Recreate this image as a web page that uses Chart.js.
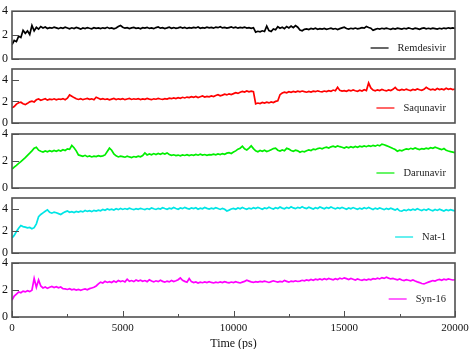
<!DOCTYPE html>
<html>
<head>
<meta charset="utf-8">
<title>RMSD</title>
<script src="https://cdn.jsdelivr.net/npm/chart.js@4.4.1/dist/chart.umd.min.js"></script>
<style>
    html, body { margin: 0; padding: 0; background: #fff; }
    #figure { position: relative; width: 474px; height: 349px; }
    #figure canvas { position: absolute; left: 0; top: 0; }
</style>
</head>
<body>
<div id="figure"></div>
<script>
// one sample every 100 ps, 0 .. 20000 ps
const timeStep = 100;
const timeMax = 20000;

const remdesivir = [
    1.20, 1.55, 1.45, 1.90, 1.80, 2.40, 2.15, 2.35, 2.05, 2.80,
    2.35, 2.65, 2.50, 2.72, 2.60, 2.68, 2.55, 2.62, 2.58, 2.66,
    2.60, 2.54, 2.63, 2.57, 2.66, 2.59, 2.52, 2.61, 2.55, 2.64,
    2.58, 2.50, 2.60, 2.55, 2.63, 2.57, 2.53, 2.62, 2.56, 2.60,
    2.54, 2.61, 2.57, 2.65, 2.56, 2.60, 2.52, 2.59, 2.72, 2.80,
    2.66, 2.58, 2.62, 2.55, 2.60, 2.64, 2.57, 2.61, 2.53, 2.62,
    2.58, 2.65, 2.56, 2.60, 2.54, 2.63, 2.68, 2.58, 2.62, 2.55,
    2.60, 2.66, 2.57, 2.63, 2.56, 2.61, 2.67, 2.59, 2.64, 2.56,
    2.62, 2.58, 2.65, 2.60, 2.68, 2.57, 2.63, 2.59, 2.66, 2.61,
    2.64, 2.58, 2.67, 2.62, 2.70, 2.60, 2.65, 2.58, 2.63, 2.68,
    2.60, 2.66, 2.58, 2.64, 2.61, 2.67, 2.59, 2.63, 2.57, 2.62,
    2.25, 2.32, 2.28, 2.36, 2.30, 2.75, 2.38, 2.30, 2.52, 2.45,
    2.70, 2.58, 2.66, 2.54, 2.72, 2.60, 2.76, 2.62, 2.80, 2.66,
    2.42, 2.36, 2.48, 2.52, 2.46, 2.55, 2.50, 2.57, 2.49, 2.54,
    2.50, 2.56, 2.48, 2.53, 2.58, 2.51, 2.55, 2.47, 2.54, 2.60,
    2.66, 2.55, 2.50, 2.57, 2.52, 2.59, 2.53, 2.56, 2.62, 2.58,
    2.72, 2.64, 2.58, 2.40, 2.48, 2.55, 2.50, 2.57, 2.52, 2.58,
    2.53, 2.49, 2.56, 2.51, 2.58, 2.54, 2.50, 2.57, 2.53, 2.60,
    2.55, 2.51, 2.58, 2.54, 2.49, 2.56, 2.60, 2.53, 2.57, 2.52,
    2.58, 2.54, 2.50, 2.57, 2.53, 2.59, 2.55, 2.61, 2.56, 2.60,
    2.57
];

const saqunavir = [
    1.40, 1.52, 1.75, 1.88, 1.92, 1.78, 1.70, 1.82, 1.96, 2.02,
    1.95, 2.15, 2.22, 2.10, 2.18, 2.25, 2.12, 2.20, 2.16, 2.24,
    2.14, 2.22, 2.18, 2.26, 2.15, 2.30, 2.60, 2.48, 2.35, 2.24,
    2.18, 2.25, 2.16, 2.22, 2.28, 2.19, 2.24, 2.15, 2.38, 2.30,
    2.20, 2.26, 2.18, 2.23, 2.15, 2.21, 2.27, 2.17, 2.24, 2.19,
    2.25, 2.16, 2.22, 2.28, 2.18, 2.24, 2.20, 2.26, 2.17, 2.23,
    2.19, 2.27, 2.21, 2.16, 2.24, 2.20, 2.28, 2.22, 2.18, 2.26,
    2.22, 2.30, 2.25, 2.33, 2.27, 2.35, 2.29, 2.38, 2.32, 2.40,
    2.35, 2.44, 2.38, 2.46, 2.36, 2.43, 2.50, 2.40, 2.47, 2.42,
    2.50, 2.45, 2.55, 2.62, 2.52, 2.58, 2.66, 2.60, 2.70, 2.64,
    2.72, 2.80, 2.74, 2.85, 2.92, 2.86, 2.96, 2.88, 2.94, 2.90,
    1.78, 1.85, 1.80, 1.90, 1.84, 1.92, 1.86, 1.95, 1.90, 2.00,
    2.05, 2.62, 2.78, 2.86, 2.80, 2.90, 2.84, 2.92, 2.86, 2.95,
    2.88, 2.96, 2.90, 2.85, 2.93, 2.87, 2.95, 2.90, 2.98, 2.92,
    2.88, 2.96, 2.91, 3.00, 2.94, 3.05, 2.98, 3.30, 3.02, 2.95,
    3.00, 2.93, 3.04, 2.97, 3.06, 2.99, 2.94, 3.03, 2.96, 3.08,
    3.00, 3.70, 3.25, 3.05, 2.98, 3.07, 3.01, 3.10, 3.03, 2.97,
    3.06, 3.00, 3.12, 3.30, 3.08, 3.02, 3.10, 3.04, 3.14, 3.06,
    3.00, 3.10, 3.05, 3.15, 3.08, 3.02, 3.12, 3.30, 3.18, 3.08,
    3.14, 3.06, 3.20, 3.10, 3.16, 3.08, 3.22, 3.12, 3.18, 3.10,
    3.15
];

const darunavir = [
    1.40, 1.55, 1.68, 1.82, 1.95, 2.10, 2.25, 2.42, 2.58, 2.75,
    2.95, 3.02, 2.80, 2.72, 2.66, 2.74, 2.68, 2.76, 2.70, 2.78,
    2.72, 2.80, 2.74, 2.84, 2.78, 2.90, 2.86, 3.15, 2.98, 2.75,
    2.45, 2.40, 2.35, 2.42, 2.32, 2.38, 2.30, 2.36, 2.33, 2.40,
    2.34, 2.38, 2.45, 2.70, 2.95, 2.80, 2.52, 2.38, 2.30, 2.36,
    2.32, 2.28, 2.35, 2.30, 2.26, 2.33, 2.29, 2.36, 2.31, 2.40,
    2.60, 2.45, 2.52, 2.46, 2.55, 2.48, 2.56, 2.50, 2.58, 2.52,
    2.60, 2.48, 2.42, 2.46, 2.40, 2.44, 2.38, 2.45, 2.41, 2.47,
    2.40, 2.46, 2.42, 2.48, 2.43, 2.50, 2.44, 2.48, 2.42, 2.47,
    2.45, 2.50, 2.46, 2.52, 2.48, 2.55, 2.50, 2.58, 2.62, 2.56,
    2.66, 2.75, 2.88, 2.95, 3.10, 2.90, 2.82, 2.95, 3.12, 2.92,
    2.75, 2.68, 2.78, 2.72, 2.80, 2.70, 2.76, 2.84, 2.92, 2.95,
    2.80, 2.74, 2.82, 2.76, 2.94, 2.88, 2.78, 2.72, 2.80, 2.75,
    2.65, 2.72, 2.68, 2.76, 2.82, 2.78, 2.88, 2.84, 2.92, 2.96,
    2.90, 2.98, 3.02, 2.96, 3.05, 3.10, 3.04, 3.12, 3.06, 3.02,
    2.96, 3.04, 2.98, 3.06, 3.00, 3.08, 3.02, 3.10, 3.05, 3.12,
    3.06, 3.14, 3.08, 3.16, 3.10, 3.18, 3.12, 3.25, 3.20, 3.14,
    3.08, 3.00, 2.92, 2.85, 2.72, 2.80, 2.76, 2.84, 2.90, 2.86,
    2.94, 2.88, 2.96, 2.90, 2.85, 2.92, 2.88, 2.95, 2.90, 2.98,
    2.94, 3.02, 2.96, 2.90, 2.84, 2.92, 2.80, 2.74, 2.70, 2.66,
    2.62
];

const nat1 = [
    1.38, 1.60, 1.95, 2.25, 2.50, 2.40, 2.35, 2.28, 2.32, 2.20,
    2.30, 2.65, 3.30, 3.50, 3.65, 3.80, 3.92, 3.70, 3.62, 3.72,
    3.66, 3.58, 3.50, 3.64, 3.74, 3.82, 3.70, 3.76, 3.68, 3.78,
    3.72, 3.80, 3.74, 3.86, 3.78, 3.84, 3.76, 3.88, 3.82, 3.90,
    3.84, 3.95, 3.88, 4.00, 3.92, 3.98, 3.90, 4.02, 3.94, 4.05,
    3.96, 4.04, 3.98, 4.08, 4.00, 3.94, 4.03, 3.97, 4.06, 4.00,
    3.95, 4.04, 3.98, 4.10, 4.02, 3.96, 4.06, 4.00, 4.12, 4.04,
    3.98, 4.08, 4.02, 4.14, 4.05, 3.98, 4.10, 4.03, 4.15, 4.06,
    4.00, 4.10, 4.04, 4.12, 3.98, 4.08, 4.02, 4.14, 4.06, 4.00,
    4.08, 4.02, 4.12, 4.04, 3.96, 4.06, 3.98, 3.82, 3.90, 4.00,
    4.06, 3.98, 4.10, 4.02, 4.14, 4.05, 3.97, 4.08, 4.01, 4.12,
    4.04, 4.15, 4.06, 3.98, 4.10, 4.03, 4.16, 4.07, 4.00, 4.12,
    4.05, 4.18, 4.08, 4.02, 4.14, 4.06, 4.20, 4.10, 4.03, 4.15,
    4.08, 4.20, 4.10, 4.04, 4.16, 4.08, 4.00, 4.12, 4.05, 4.18,
    4.10, 4.02, 4.14, 4.06, 4.18, 4.09, 4.01, 4.12, 4.04, 4.15,
    4.06, 3.98, 4.10, 4.02, 4.13, 4.05, 3.97, 4.08, 4.00, 4.11,
    4.03, 4.14, 4.05, 3.96, 4.08, 4.00, 4.10, 4.02, 3.94, 4.05,
    3.97, 4.07, 3.99, 3.90, 4.02, 3.84, 3.80, 3.92, 3.85, 3.96,
    3.88, 3.98, 3.90, 4.02, 3.93, 3.86, 3.97, 3.89, 4.00, 3.91,
    3.84, 3.95, 3.87, 3.98, 3.90, 3.82, 3.93, 3.86, 3.94, 3.88,
    3.82
];

const syn16 = [
    1.25, 1.55, 1.70, 1.85, 1.80, 1.92, 1.86, 1.95, 1.88, 1.98,
    2.85, 2.20, 2.75, 2.30, 2.15, 2.22, 2.12, 2.20, 2.26, 2.18,
    2.24, 2.16, 2.22, 2.10, 2.08, 2.04, 2.10, 2.02, 2.06, 2.00,
    2.05, 1.98, 2.04, 2.08, 2.02, 2.10, 2.15, 2.20, 2.30, 2.45,
    2.58, 2.52, 2.64, 2.56, 2.62, 2.55, 2.66, 2.58, 2.70, 2.62,
    2.68, 2.60, 2.80, 2.64, 2.70, 2.62, 2.74, 2.66, 2.72, 2.64,
    2.70, 2.62, 2.76, 2.66, 2.60, 2.68, 2.62, 2.72, 2.64, 2.58,
    2.66, 2.60, 2.70, 2.62, 2.68, 2.76, 2.90, 2.72, 2.64, 2.58,
    2.85, 2.62, 2.55, 2.60, 2.52, 2.58, 2.54, 2.60, 2.55, 2.61,
    2.56, 2.52, 2.58, 2.54, 2.60, 2.55, 2.62, 2.57, 2.53, 2.59,
    2.55, 2.61, 2.56, 2.52, 2.58, 2.64, 2.72, 2.66, 2.60, 2.56,
    2.62, 2.58, 2.64, 2.60, 2.66, 2.61, 2.56, 2.62, 2.68, 2.63,
    2.58, 2.64, 2.60, 2.70, 2.64, 2.58, 2.66, 2.62, 2.68, 2.63,
    2.66, 2.72, 2.68, 2.75, 2.70, 2.78, 2.72, 2.80, 2.75, 2.82,
    2.76, 2.84, 2.78, 2.86, 2.80, 2.76, 2.84, 2.78, 2.88, 2.82,
    2.90, 2.84, 2.78, 2.85, 2.80, 2.74, 2.82, 2.76, 2.72, 2.78,
    2.74, 2.80, 2.76, 2.84, 2.80, 2.88, 2.82, 2.92, 2.86, 2.95,
    2.88, 2.82, 2.86, 2.80, 2.76, 2.82, 2.74, 2.70, 2.76, 2.72,
    2.68, 2.74, 2.66, 2.60, 2.55, 2.48, 2.45, 2.52, 2.58, 2.64,
    2.70, 2.66, 2.74, 2.78, 2.72, 2.80, 2.76, 2.82, 2.78, 2.74,
    2.76
];

const serif = '"Liberation Serif", "Times New Roman", serif';
const frameColor = '#505050';
const textColor = '#111';

// panel boxes in page pixels; every panel shares the same x range
const plotLeft = 12;
const plotRight = 455;
const figureW = 474;
const figureH = 349;

const panels = [
    { label: 'Remdesivir', values: remdesivir, color: '#000000', yMax: 4, top: 5, bottom: 59, legendUp: 11 },
    { label: 'Saqunavir', values: saqunavir, color: '#ff0000', yMax: 5, top: 69, bottom: 123, legendUp: 15 },
    { label: 'Darunavir', values: darunavir, color: '#00ee00', yMax: 4, top: 134, bottom: 188, legendUp: 15 },
    { label: 'Nat-1', values: nat1, color: '#00e5e5', yMax: 5, top: 198, bottom: 253, legendUp: 16 },
    { label: 'Syn-16', values: syn16, color: '#ff00ff', yMax: 4, top: 263, bottom: 317, legendUp: 18 },
];

// frame, inward tick marks and the small legend in the lower right corner
const panelDecor = {
    id: 'panelDecor',
    afterDraw(chart, args, opts) {
        const { ctx, chartArea: a, scales } = chart;
        ctx.save();

        ctx.strokeStyle = frameColor;
        ctx.lineWidth = 1;
        scales.y.ticks.forEach(t => {
            const y = Math.round(scales.y.getPixelForValue(t.value)) + 0.5;
            const len = t.value % 2 === 0 ? 7 : 4;
            ctx.beginPath();
            ctx.moveTo(a.left, y);
            ctx.lineTo(a.left + len, y);
            ctx.stroke();
        });
        if (scales.x.options.display) {
            scales.x.ticks.forEach(t => {
                const x = Math.round(scales.x.getPixelForValue(t.value)) + 0.5;
                const len = t.value % 5000 === 0 ? 6 : 3;
                ctx.beginPath();
                ctx.moveTo(x, a.bottom);
                ctx.lineTo(x, a.bottom - len);
                ctx.stroke();
            });
        }

        ctx.lineWidth = 1.6;
        ctx.strokeRect(a.left, a.top, a.width, a.height);

        const ds = chart.data.datasets[0];
        ctx.font = '10.5px ' + serif;
        ctx.fillStyle = '#222';
        ctx.textAlign = 'right';
        ctx.textBaseline = 'middle';
        const textRight = a.right - 9;
        const y = a.bottom - opts.up;
        ctx.fillText(ds.label, textRight, y);
        const lineEnd = textRight - ctx.measureText(ds.label).width - 9;
        ctx.strokeStyle = ds.borderColor;
        ctx.lineWidth = 1.2;
        ctx.beginPath();
        ctx.moveTo(lineEnd - 18, y);
        ctx.lineTo(lineEnd, y);
        ctx.stroke();

        ctx.restore();
    }
};

const figure = document.getElementById('figure');

panels.forEach((panel, index) => {
    const isLast = index === panels.length - 1;
    const canvas = document.createElement('canvas');
    canvas.width = figureW;
    canvas.height = figureH;
    figure.appendChild(canvas);

    new Chart(canvas, {
        type: 'line',
        data: {
            datasets: [{
                label: panel.label,
                data: panel.values.map((v, i) => ({ x: i * timeStep, y: v })),
                borderColor: panel.color,
                borderWidth: 1.7,
                pointRadius: 0,
                tension: 0,
                fill: false,
            }],
        },
        options: {
            responsive: false,
            animation: false,
            events: [],
            layout: {
                autoPadding: false,
                padding: {
                    left: 0,
                    top: panel.top,
                    right: figureW - plotRight,
                    bottom: isLast ? 0 : figureH - panel.bottom,
                },
            },
            plugins: {
                legend: { display: false },
                tooltip: { enabled: false },
                panelDecor: { up: panel.legendUp },
            },
            scales: {
                x: {
                    type: 'linear',
                    display: isLast,
                    min: 0,
                    max: timeMax,
                    grid: { display: false, drawTicks: false },
                    border: { display: false },
                    ticks: {
                        stepSize: 2500,
                        autoSkip: false,
                        maxRotation: 0,
                        padding: 5,
                        color: textColor,
                        font: { family: serif, size: 11 },
                        callback: value => value % 5000 === 0 ? value : '',
                    },
                    title: {
                        display: true,
                        text: 'Time (ps)',
                        color: textColor,
                        font: { family: serif, size: 12 },
                        padding: { top: 0, bottom: -2 },
                    },
                    afterFit(scale) {
                        // only the bottom panel carries the time axis
                        scale.height = isLast ? figureH - panel.bottom : 0;
                    },
                },
                y: {
                    min: 0,
                    max: panel.yMax,
                    grid: { display: false, drawTicks: false },
                    border: { display: false },
                    ticks: {
                        stepSize: 1,
                        padding: 4,
                        color: textColor,
                        font: { family: serif, size: 12 },
                        callback: value => value % 2 === 0 ? value : '',
                    },
                    afterFit(scale) {
                        scale.width = plotLeft;
                    },
                },
            },
        },
        plugins: [panelDecor],
    });
});
</script>
</body>
</html>
